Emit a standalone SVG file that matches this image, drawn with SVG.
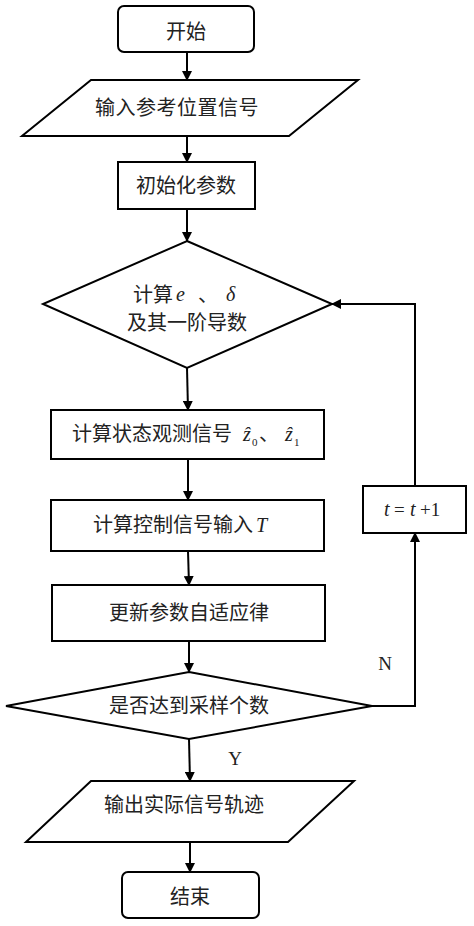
<svg xmlns="http://www.w3.org/2000/svg" width="474" height="926" viewBox="0 0 474 926">
<defs>
<marker id="ah" markerWidth="10" markerHeight="10" refX="9" refY="5" orient="auto" markerUnits="userSpaceOnUse">
<path d="M0,0 L10,5 L0,10 Z" fill="#000"/>
</marker>
<style>
.s{fill:#fff;stroke:#000;stroke-width:2}
.t{font-family:"Liberation Serif","Noto Sans CJK SC",serif;font-size:20px;fill:#222}
.m{font-family:"Liberation Serif",serif;font-style:italic;font-size:20px;fill:#222}
.sub{font-family:"Liberation Serif",serif;font-size:11px;fill:#222}
.l{font-family:"Liberation Serif",serif;font-size:19px;fill:#222}
.c{fill:none;stroke:#000;stroke-width:2}
</style>
</defs>
<rect width="474" height="926" fill="#fff"/>
<g id="connectors">
<line class="c" x1="187" y1="52" x2="187" y2="80" marker-end="url(#ah)"/>
<line class="c" x1="187" y1="136" x2="187" y2="162" marker-end="url(#ah)"/>
<line class="c" x1="187" y1="209" x2="187" y2="241" marker-end="url(#ah)"/>
<line class="c" x1="187" y1="368" x2="188" y2="410" marker-end="url(#ah)"/>
<line class="c" x1="188" y1="459" x2="188" y2="500" marker-end="url(#ah)"/>
<line class="c" x1="188" y1="551" x2="189" y2="585" marker-end="url(#ah)"/>
<line class="c" x1="189" y1="641" x2="189" y2="672" marker-end="url(#ah)"/>
<line class="c" x1="189" y1="739" x2="190" y2="781" marker-end="url(#ah)"/>
<line class="c" x1="190" y1="842" x2="190" y2="872" marker-end="url(#ah)"/>
<polyline class="c" points="372,706 415,706 415,533" marker-end="url(#ah)"/>
<polyline class="c" points="415,486 415,304 332,304" marker-end="url(#ah)"/>
<text class="l" x="385" y="670" text-anchor="middle">N</text>
<text class="l" x="235" y="765" text-anchor="middle">Y</text>
</g>
<g id="start">
<rect class="s" x="118" y="6" width="136" height="46" rx="6"/>
<text class="t" x="186" y="39" text-anchor="middle">开始</text>
</g>
<g id="input">
<polygon class="s" points="91,80 358,80 289,136 22,136"/>
<text class="t" x="177" y="115" text-anchor="middle" letter-spacing="0.5">输入参考位置信号</text>
</g>
<g id="init">
<rect class="s" x="118" y="162" width="137" height="47"/>
<text class="t" x="186" y="193" text-anchor="middle">初始化参数</text>
</g>
<g id="calc-e">
<polygon class="s" points="187,241 332,304 187,368 43,304"/>
<text class="t" x="133" y="302">计算</text>
<text class="m" x="176" y="301">e</text>
<text class="t" x="198" y="302">、</text>
<text class="m" x="226" y="301">δ</text>
<text class="t" x="187" y="330" text-anchor="middle">及其一阶导数</text>
</g>
<g id="observer">
<rect class="s" x="51" y="410" width="273" height="49"/>
<text class="t" x="72" y="441">计算状态观测信号</text>
<text class="m" x="243" y="441">ẑ</text>
<text class="sub" x="252" y="446">0</text>
<text class="t" x="259" y="441">、</text>
<text class="m" x="285" y="441">ẑ</text>
<text class="sub" x="294" y="446">1</text>
</g>
<g id="control">
<rect class="s" x="51" y="500" width="273" height="51"/>
<text class="t" x="93" y="532">计算控制信号输入</text>
<text class="m" x="256" y="532">T</text>
</g>
<g id="update">
<rect class="s" x="52" y="585" width="273" height="56"/>
<text class="t" x="189" y="620" text-anchor="middle">更新参数自适应律</text>
</g>
<g id="check">
<polygon class="s" points="189,672 372,706 189,739 6,706"/>
<text class="t" x="189" y="713" text-anchor="middle">是否达到采样个数</text>
</g>
<g id="increment">
<rect class="s" x="363" y="486" width="103" height="47"/>
<text class="m" x="384" y="516">t</text>
<text class="l" x="394" y="516">=</text>
<text class="m" x="410" y="516">t</text>
<text class="l" x="420" y="516">+1</text>
</g>
<g id="output">
<polygon class="s" points="91,781 354,781 288,842 26,842"/>
<text class="t" x="184" y="812" text-anchor="middle">输出实际信号轨迹</text>
</g>
<g id="end">
<rect class="s" x="122" y="872" width="137" height="46" rx="6"/>
<text class="t" x="190" y="904" text-anchor="middle">结束</text>
</g>
</svg>
